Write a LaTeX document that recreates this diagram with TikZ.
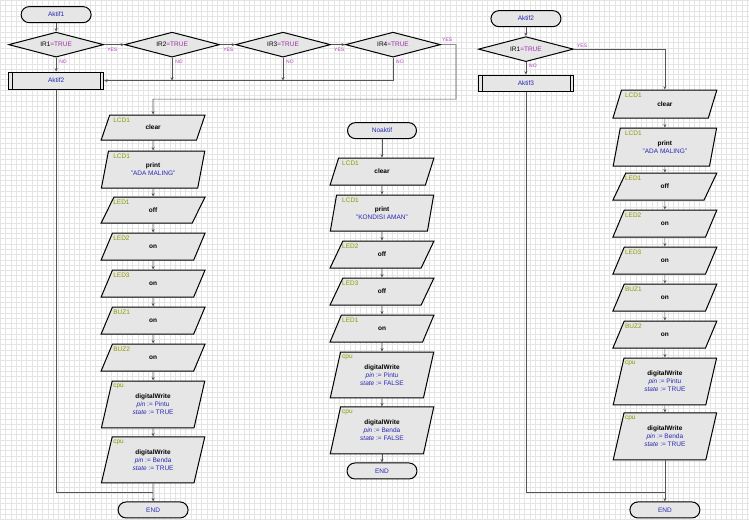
\documentclass[tikz,border=0pt]{standalone}
\usepackage{fontspec}
\setmainfont{Liberation Sans}
\usetikzlibrary{shapes.geometric,arrows.meta,calc}
\definecolor{gridc}{HTML}{E4E4E4}
\definecolor{fillc}{HTML}{E6E6E6}
\definecolor{linec}{HTML}{555555}
\definecolor{labc}{HTML}{8C9A00}
\definecolor{valc}{HTML}{2828B4}
\definecolor{purp}{HTML}{9A2AA8}
\definecolor{ync}{HTML}{B03CB8}
\tikzset{
  fnt/.style={font=\fontsize{6.5}{8}\selectfont},
  term/.style={fnt,draw=black,line width=1pt,fill=fillc,rectangle,rounded corners=8pt,minimum width=70pt,minimum height=16pt,inner sep=0pt,text=valc},
  dec/.style={fnt,draw=black,line width=1pt,fill=fillc,diamond,aspect=3.8,minimum width=95pt,minimum height=25pt,inner sep=0pt},
  sub/.style={fnt,draw=black,line width=1pt,fill=fillc,rectangle,minimum width=95pt,minimum height=17pt,inner sep=0pt,text=valc},
  io/.style={fnt,draw=black,line width=1pt,fill=fillc,trapezium,trapezium left angle=76,trapezium right angle=104,trapezium stretches=true,minimum width=104pt,align=center,inner sep=1pt},
  lab/.style={fnt,text=labc,anchor=north west,inner sep=0pt},
  yn/.style={font=\fontsize{5}{6}\selectfont,text=ync,inner sep=1pt},
  ln/.style={draw=linec,line width=0.7pt},
  arr/.style={ln,-{Stealth[length=3.5pt,width=3pt]}}
}
\newcommand{\bars}[1]{\draw[line width=0.8pt] ($(#1.north west)+(4,0)$)--($(#1.south west)+(4,0)$) ($(#1.north east)+(-4,0)$)--($(#1.south east)+(-4,0)$);}
\newcommand{\lb}[2]{\node[lab] at ($(#1.north)+(-40,3)$) {#2};}
\newcommand{\va}[1]{\textcolor{valc}{#1}}
\begin{document}
\begin{tikzpicture}[x=1pt,y=-1pt]
\fill[white] (0,0) rectangle (749,520);
\draw[gridc,line width=0.3pt] (0,0) grid[step=5.3pt] (749,520);
\useasboundingbox (0,0) rectangle (749,520);
% ===== left
\node[term] (ak1) at (56,14.5) {Aktif1};
\node[dec] (ir1) at (56,44.5) {IR1\textcolor{purp}{=TRUE}};
\node[dec] (ir2) at (172,44.5) {IR2\textcolor{purp}{=TRUE}};
\node[dec] (ir3) at (283,44.5) {IR3\textcolor{purp}{=TRUE}};
\node[dec] (ir4) at (393,44.5) {IR4\textcolor{purp}{=TRUE}};
\node[sub] (a2) at (56,80.5) {Aktif2}; \bars{a2}
\node[io,minimum height=25pt] (c1) at (153,127.5) {\textbf{clear}}; \lb{c1}{LCD1}
\node[io,minimum height=37pt] (p1) at (153,169.5) {\textbf{print}\\\va{"ADA MALING"}}; \lb{p1}{LCD1}
\node[io,minimum height=26pt] (e1) at (153,210) {\textbf{off}}; \lb{e1}{LED1}
\node[io,minimum height=27pt] (e2) at (153,246.5) {\textbf{on}}; \lb{e2}{LED2}
\node[io,minimum height=27pt] (e3) at (153,283.5) {\textbf{on}}; \lb{e3}{LED3}
\node[io,minimum height=27pt] (bz1) at (153,320.5) {\textbf{on}}; \lb{bz1}{BUZ1}
\node[io,minimum height=27pt] (bz2) at (153,357.5) {\textbf{on}}; \lb{bz2}{BUZ2}
\node[io,minimum height=47pt] (w1) at (153,404.5) {\textbf{digitalWrite}\\\textit{\va{pin}} \va{:= Pintu}\\\textit{\va{state}} \va{:= TRUE}}; \lb{w1}{cpu}
\node[io,minimum height=46pt] (w2) at (153,460) {\textbf{digitalWrite}\\\textit{\va{pin}} \va{:= Benda}\\\textit{\va{state}} \va{:= TRUE}}; \lb{w2}{cpu}
\node[term] (end1) at (153,510) {END};
\draw[arr] (ak1)--(ir1);
\draw[arr] (ir1)--(a2);
\draw[arr] (ir1.east)--(ir2.west);
\draw[arr] (ir2.east)--(ir3.west);
\draw[arr] (ir3.east)--(ir4.west);
\coordinate (r1) at (456,44.5);
\coordinate (r2) at (153,99);
\draw[arr] (ir4.east)--(r1)|-(r2)--(c1);
\draw[arr] (ir4.south)|-(a2.east);
\draw[arr] (ir3.south)--(ir3|-a2);
\draw[arr] (ir2.south)--(ir2|-a2);
\node[yn,anchor=north west] at ($(ir1.east)+(2,2)$) {YES};
\node[yn,anchor=north west] at ($(ir2.east)+(2,2)$) {YES};
\node[yn,anchor=north west] at ($(ir3.east)+(2,2)$) {YES};
\node[yn,anchor=south west] at ($(ir4.east)+(0,-2)$) {YES};
\foreach \d in {ir1,ir2,ir3,ir4} \node[yn,anchor=north west] at ($(\d.south)+(2,1)$) {NO};
\foreach \a/\b in {c1/p1,p1/e1,e1/e2,e2/e3,e3/bz1,bz1/bz2,bz2/w1,w1/w2,w2/end1} \draw[arr] (\a)--(\b);
\coordinate (j1) at (153,492);
\draw[ln] (a2.south)|-(j1);
% ===== middle
\node[term,minimum width=69pt] (na) at (382,130.5) {Noaktif};
\node[io,minimum height=27pt] (mc) at (382,171.5) {\textbf{clear}}; \lb{mc}{LCD1}
\node[io,minimum height=36pt] (mp) at (382,213) {\textbf{print}\\\va{"KONDISI AMAN"}}; \lb{mp}{LCD1}
\node[io,minimum height=27pt] (m2) at (382,254.5) {\textbf{off}}; \lb{m2}{LED2}
\node[io,minimum height=27pt] (m3) at (382,291.5) {\textbf{off}}; \lb{m3}{LED3}
\node[io,minimum height=27pt] (m1) at (382,328.5) {\textbf{on}}; \lb{m1}{LED1}
\node[io,minimum height=46pt] (mw1) at (382,375) {\textbf{digitalWrite}\\\textit{\va{pin}} \va{:= Pintu}\\\textit{\va{state}} \va{:= FALSE}}; \lb{mw1}{cpu}
\node[io,minimum height=47pt] (mw2) at (382,430.5) {\textbf{digitalWrite}\\\textit{\va{pin}} \va{:= Benda}\\\textit{\va{state}} \va{:= FALSE}}; \lb{mw2}{cpu}
\node[term] (end2) at (382,471) {END};
\foreach \a/\b in {na/mc,mc/mp,mp/m2,m2/m3,m3/m1,m1/mw1,mw1/mw2,mw2/end2} \draw[arr] (\a)--(\b);
% ===== right
\node[term] (ak2) at (526,18.5) {Aktif2};
\node[dec] (ri1) at (526,49) {IR1\textcolor{purp}{=TRUE}};
\node[sub,minimum height=16pt] (a3) at (526,83) {Aktif3}; \bars{a3}
\node[io,minimum height=28pt] (rc) at (665,104) {\textbf{clear}}; \lb{rc}{LCD1}
\node[io,minimum height=38pt] (rp) at (665,147) {\textbf{print}\\\va{"ADA MALING"}}; \lb{rp}{LCD1}
\node[io,minimum height=27pt] (r1n) at (665,186.5) {\textbf{off}}; \lb{r1n}{LED1}
\node[io,minimum height=27pt] (r2n) at (665,223.5) {\textbf{on}}; \lb{r2n}{LED2}
\node[io,minimum height=27pt] (r3n) at (665,260.5) {\textbf{on}}; \lb{r3n}{LED3}
\node[io,minimum height=27pt] (rb1) at (665,297.5) {\textbf{on}}; \lb{rb1}{BUZ1}
\node[io,minimum height=27pt] (rb2) at (665,334.5) {\textbf{on}}; \lb{rb2}{BUZ2}
\node[io,minimum height=47pt] (rw1) at (665,381.5) {\textbf{digitalWrite}\\\textit{\va{pin}} \va{:= Pintu}\\\textit{\va{state}} \va{:= TRUE}}; \lb{rw1}{cpu}
\node[io,minimum height=47pt] (rw2) at (665,436.5) {\textbf{digitalWrite}\\\textit{\va{pin}} \va{:= Benda}\\\textit{\va{state}} \va{:= TRUE}}; \lb{rw2}{cpu}
\node[term] (end3) at (665,510) {END};
\draw[arr] (ak2)--(ri1);
\draw[arr] (ri1)--(a3);
\draw[arr] (ri1.east)-|(rc.north);
\node[yn,anchor=south west] at ($(ri1.east)+(2,0)$) {YES};
\node[yn,anchor=north west] at ($(ri1.south)+(2,1)$) {NO};
\foreach \a/\b in {rc/rp,rp/r1n,r1n/r2n,r2n/r3n,r3n/rb1,rb1/rb2,rb2/rw1,rw1/rw2,rw2/end3} \draw[arr] (\a)--(\b);
\coordinate (j3) at (665,492);
\draw[ln] (a3.south)|-(j3);
\end{tikzpicture}
\end{document}
